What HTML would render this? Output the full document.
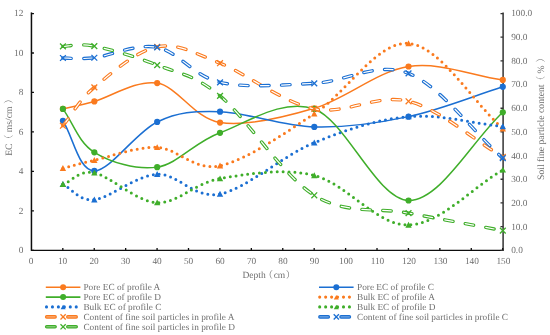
<!DOCTYPE html>
<html><head><meta charset="utf-8"><title>EC and soil fine particle content vs depth</title>
<style>html,body{margin:0;padding:0;background:#fff}svg{display:block}.ax,.lg{font-family:"Liberation Serif","Noto Serif CJK SC",serif;font-size:9.3px;text-rendering:geometricPrecision}.tt{font-size:9.7px}</style></head>
<body><svg width="550" height="335" viewBox="0 0 550 335">
<rect width="550" height="335" fill="#fff"/>
<path d="M31.45 12.4 V250.90" stroke="#0d0d0d" stroke-width="1.5" fill="none"/>
<path d="M31.10 250.30 H503.60" stroke="#0d0d0d" stroke-width="1.3" fill="none"/>
<path d="M503.10 12.4 V250.70" stroke="#333" stroke-width="1.5" fill="none"/>
<path d="M31.45 250.30 h2.5 M31.45 210.84 h2.5 M31.45 171.38 h2.5 M31.45 131.92 h2.5 M31.45 92.46 h2.5 M31.45 53.00 h2.5 M31.45 13.54 h2.5 M62.82 250.30 v-2.4 M94.24 250.30 v-2.4 M125.66 250.30 v-2.4 M157.08 250.30 v-2.4 M188.50 250.30 v-2.4 M219.92 250.30 v-2.4 M251.34 250.30 v-2.4 M282.76 250.30 v-2.4 M314.18 250.30 v-2.4 M345.60 250.30 v-2.4 M377.02 250.30 v-2.4 M408.44 250.30 v-2.4 M439.86 250.30 v-2.4 M471.28 250.30 v-2.4 M502.70 250.30 v-2.4" stroke="#0d0d0d" stroke-width="1.3" fill="none"/>
<path d="M503.10 250.30 h-2.6 M503.10 226.62 h-2.6 M503.10 202.95 h-2.6 M503.10 179.27 h-2.6 M503.10 155.60 h-2.6 M503.10 131.92 h-2.6 M503.10 108.24 h-2.6 M503.10 84.57 h-2.6 M503.10 60.89 h-2.6 M503.10 37.22 h-2.6 M503.10 13.54 h-2.6" stroke="#333" stroke-width="1.3" fill="none"/>
<g shape-rendering="auto">
<path d="M62.92 108.93 C68.11 107.69 78.76 105.70 94.34 101.43 C110.05 97.13 136.23 79.57 157.18 83.08 C178.13 86.60 193.84 118.34 220.02 122.54 C246.20 126.75 282.86 117.68 314.28 108.34 C345.70 99.00 377.12 71.25 408.54 66.51 C439.96 61.78 471.38 75.46 502.80 79.93" fill="none" stroke="#FA7A1E" stroke-width="1.5"/>
<circle cx="62.92" cy="108.93" r="3.10" fill="#FA7A1E"/>
<circle cx="94.34" cy="101.43" r="3.10" fill="#FA7A1E"/>
<circle cx="157.18" cy="83.08" r="3.10" fill="#FA7A1E"/>
<circle cx="220.02" cy="122.54" r="3.10" fill="#FA7A1E"/>
<circle cx="314.28" cy="108.34" r="3.10" fill="#FA7A1E"/>
<circle cx="408.54" cy="66.51" r="3.10" fill="#FA7A1E"/>
<circle cx="502.80" cy="79.93" r="3.10" fill="#FA7A1E"/>
<path d="M62.92 120.77 C73.39 137.47 78.63 170.69 94.34 170.88 C110.05 171.08 136.23 131.82 157.18 121.95 C178.13 112.09 193.84 110.87 220.02 111.69 C246.20 112.51 282.86 126.06 314.28 126.88 C345.70 127.71 377.12 123.30 408.54 116.63 C439.96 109.95 471.38 96.76 502.80 86.83" fill="none" stroke="#1B6FD2" stroke-width="1.5"/>
<circle cx="62.92" cy="120.77" r="3.10" fill="#1B6FD2"/>
<circle cx="94.34" cy="170.88" r="3.10" fill="#1B6FD2"/>
<circle cx="157.18" cy="121.95" r="3.10" fill="#1B6FD2"/>
<circle cx="220.02" cy="111.69" r="3.10" fill="#1B6FD2"/>
<circle cx="314.28" cy="126.88" r="3.10" fill="#1B6FD2"/>
<circle cx="408.54" cy="116.63" r="3.10" fill="#1B6FD2"/>
<circle cx="502.80" cy="86.83" r="3.10" fill="#1B6FD2"/>
<path d="M62.92 108.93 C73.39 123.40 78.63 142.64 94.34 152.34 C110.05 162.04 136.23 170.39 157.18 167.13 C178.13 163.88 193.84 142.50 220.02 132.80 C246.20 123.10 282.86 97.65 314.28 108.93 C345.70 120.21 377.12 199.92 408.54 200.48 C439.96 201.04 471.38 141.68 502.80 112.28" fill="none" stroke="#3FAE2A" stroke-width="1.5"/>
<circle cx="62.92" cy="108.93" r="3.10" fill="#3FAE2A"/>
<circle cx="94.34" cy="152.34" r="3.10" fill="#3FAE2A"/>
<circle cx="157.18" cy="167.13" r="3.10" fill="#3FAE2A"/>
<circle cx="220.02" cy="132.80" r="3.10" fill="#3FAE2A"/>
<circle cx="314.28" cy="108.93" r="3.10" fill="#3FAE2A"/>
<circle cx="408.54" cy="200.48" r="3.10" fill="#3FAE2A"/>
<circle cx="502.80" cy="112.28" r="3.10" fill="#3FAE2A"/>
<path d="M62.92 168.32 C73.39 165.62 78.63 163.71 94.34 160.23 C110.05 156.74 136.23 146.48 157.18 147.40 C178.13 148.32 193.84 171.34 220.02 165.75 C246.20 160.16 282.86 134.25 314.28 113.86 C345.70 93.48 377.12 40.96 408.54 43.43 C439.96 45.89 471.38 100.25 502.80 128.66" fill="none" stroke="#FA7A1E" stroke-width="3" stroke-linecap="round" stroke-dasharray="0 5.9"/>
<path d="M62.92 165.12 L66.12 171.04 L59.72 171.04 Z" fill="#FA7A1E"/>
<path d="M94.34 157.03 L97.54 162.95 L91.14 162.95 Z" fill="#FA7A1E"/>
<path d="M157.18 144.20 L160.38 150.12 L153.98 150.12 Z" fill="#FA7A1E"/>
<path d="M220.02 162.55 L223.22 168.47 L216.82 168.47 Z" fill="#FA7A1E"/>
<path d="M314.28 110.66 L317.48 116.58 L311.08 116.58 Z" fill="#FA7A1E"/>
<path d="M408.54 40.23 L411.74 46.15 L405.34 46.15 Z" fill="#FA7A1E"/>
<path d="M502.80 125.46 L506.00 131.38 L499.60 131.38 Z" fill="#FA7A1E"/>
<path d="M62.92 184.30 C73.39 189.43 78.63 201.37 94.34 199.69 C110.05 198.01 136.23 175.19 157.18 174.24 C178.13 173.28 193.84 199.23 220.02 193.97 C246.20 188.71 282.86 155.56 314.28 142.67 C345.70 129.78 377.12 119.32 408.54 116.63 C439.96 113.93 471.38 123.20 502.80 126.49" fill="none" stroke="#1B6FD2" stroke-width="3" stroke-linecap="round" stroke-dasharray="0 5.9"/>
<path d="M62.92 181.10 L66.12 187.02 L59.72 187.02 Z" fill="#1B6FD2"/>
<path d="M94.34 196.49 L97.54 202.41 L91.14 202.41 Z" fill="#1B6FD2"/>
<path d="M157.18 171.04 L160.38 176.96 L153.98 176.96 Z" fill="#1B6FD2"/>
<path d="M220.02 190.77 L223.22 196.69 L216.82 196.69 Z" fill="#1B6FD2"/>
<path d="M314.28 139.47 L317.48 145.39 L311.08 145.39 Z" fill="#1B6FD2"/>
<path d="M408.54 113.43 L411.74 119.35 L405.34 119.35 Z" fill="#1B6FD2"/>
<path d="M502.80 123.29 L506.00 129.21 L499.60 129.21 Z" fill="#1B6FD2"/>
<path d="M62.92 184.30 C73.39 180.48 78.63 169.80 94.34 172.86 C110.05 175.91 136.23 201.69 157.18 202.65 C178.13 203.60 193.84 183.12 220.02 178.58 C246.20 174.04 282.86 167.69 314.28 175.42 C345.70 183.15 377.12 225.86 408.54 224.94 C439.96 224.02 471.38 188.25 502.80 169.90" fill="none" stroke="#3FAE2A" stroke-width="3" stroke-linecap="round" stroke-dasharray="0 5.9"/>
<path d="M62.92 181.10 L66.12 187.02 L59.72 187.02 Z" fill="#3FAE2A"/>
<path d="M94.34 169.66 L97.54 175.58 L91.14 175.58 Z" fill="#3FAE2A"/>
<path d="M157.18 199.45 L160.38 205.37 L153.98 205.37 Z" fill="#3FAE2A"/>
<path d="M220.02 175.38 L223.22 181.30 L216.82 181.30 Z" fill="#3FAE2A"/>
<path d="M314.28 172.22 L317.48 178.14 L311.08 178.14 Z" fill="#3FAE2A"/>
<path d="M408.54 221.74 L411.74 227.66 L405.34 227.66 Z" fill="#3FAE2A"/>
<path d="M502.80 166.70 L506.00 172.62 L499.60 172.62 Z" fill="#3FAE2A"/>
<path d="M62.92 125.70 C73.39 112.92 78.63 100.49 94.34 87.35 C110.05 74.21 136.23 50.88 157.18 46.86 C178.13 42.84 193.84 52.86 220.02 63.20 C246.20 73.53 282.86 102.54 314.28 108.89 C345.70 115.24 377.12 93.30 408.54 101.31 C439.96 109.33 471.38 138.41 502.80 156.95" fill="none" stroke="#FA7A1E" stroke-width="3.4" stroke-linecap="round" stroke-dasharray="8.5 12.34" stroke-dashoffset="0"/><path d="M62.92 125.70 C73.39 112.92 78.63 100.49 94.34 87.35 C110.05 74.21 136.23 50.88 157.18 46.86 C178.13 42.84 193.84 52.86 220.02 63.20 C246.20 73.53 282.86 102.54 314.28 108.89 C345.70 115.24 377.12 93.30 408.54 101.31 C439.96 109.33 471.38 138.41 502.80 156.95" fill="none" stroke="#fff" stroke-width="1.2" stroke-linecap="round" stroke-dasharray="8.5 12.34" stroke-dashoffset="0"/>
<path d="M60.02 122.80 L65.82 128.60 M60.02 128.60 L65.82 122.80" stroke="#FA7A1E" stroke-width="1.3" fill="none"/>
<path d="M91.44 84.45 L97.24 90.25 M91.44 90.25 L97.24 84.45" stroke="#FA7A1E" stroke-width="1.3" fill="none"/>
<path d="M154.28 43.96 L160.08 49.76 M154.28 49.76 L160.08 43.96" stroke="#FA7A1E" stroke-width="1.3" fill="none"/>
<path d="M217.12 60.30 L222.92 66.10 M217.12 66.10 L222.92 60.30" stroke="#FA7A1E" stroke-width="1.3" fill="none"/>
<path d="M311.38 105.99 L317.18 111.79 M311.38 111.79 L317.18 105.99" stroke="#FA7A1E" stroke-width="1.3" fill="none"/>
<path d="M405.64 98.41 L411.44 104.21 M405.64 104.21 L411.44 98.41" stroke="#FA7A1E" stroke-width="1.3" fill="none"/>
<path d="M499.90 154.05 L505.70 159.85 M499.90 159.85 L505.70 154.05" stroke="#FA7A1E" stroke-width="1.3" fill="none"/>
<path d="M62.92 57.99 C68.12 57.95 78.73 59.52 94.34 57.75 C110.05 55.98 136.23 43.23 157.18 47.33 C178.13 51.44 193.84 76.38 220.02 82.37 C246.20 88.37 282.86 84.82 314.28 83.32 C345.70 81.82 377.12 60.91 408.54 73.38 C439.96 85.85 471.38 129.88 502.80 158.14" fill="none" stroke="#1B6FD2" stroke-width="3.4" stroke-linecap="round" stroke-dasharray="8.5 12.4" stroke-dashoffset="0"/><path d="M62.92 57.99 C68.12 57.95 78.73 59.52 94.34 57.75 C110.05 55.98 136.23 43.23 157.18 47.33 C178.13 51.44 193.84 76.38 220.02 82.37 C246.20 88.37 282.86 84.82 314.28 83.32 C345.70 81.82 377.12 60.91 408.54 73.38 C439.96 85.85 471.38 129.88 502.80 158.14" fill="none" stroke="#fff" stroke-width="1.2" stroke-linecap="round" stroke-dasharray="8.5 12.4" stroke-dashoffset="0"/>
<path d="M60.02 55.09 L65.82 60.89 M60.02 60.89 L65.82 55.09" stroke="#1B6FD2" stroke-width="1.3" fill="none"/>
<path d="M91.44 54.85 L97.24 60.65 M91.44 60.65 L97.24 54.85" stroke="#1B6FD2" stroke-width="1.3" fill="none"/>
<path d="M154.28 44.43 L160.08 50.23 M154.28 50.23 L160.08 44.43" stroke="#1B6FD2" stroke-width="1.3" fill="none"/>
<path d="M217.12 79.47 L222.92 85.27 M217.12 85.27 L222.92 79.47" stroke="#1B6FD2" stroke-width="1.3" fill="none"/>
<path d="M311.38 80.42 L317.18 86.22 M311.38 86.22 L317.18 80.42" stroke="#1B6FD2" stroke-width="1.3" fill="none"/>
<path d="M405.64 70.48 L411.44 76.28 M405.64 76.28 L411.44 70.48" stroke="#1B6FD2" stroke-width="1.3" fill="none"/>
<path d="M499.90 155.24 L505.70 161.04 M499.90 161.04 L505.70 155.24" stroke="#1B6FD2" stroke-width="1.3" fill="none"/>
<path d="M62.92 46.39 C68.06 46.35 78.93 43.09 94.34 46.15 C110.05 49.27 136.23 56.80 157.18 65.09 C178.13 73.38 193.84 74.17 220.02 95.87 C246.20 117.57 282.86 175.78 314.28 195.31 C345.70 214.84 377.12 207.19 408.54 213.07 C439.96 218.94 471.38 224.75 502.80 230.59" fill="none" stroke="#3FAE2A" stroke-width="3.4" stroke-linecap="round" stroke-dasharray="8.5 12.4" stroke-dashoffset="0"/><path d="M62.92 46.39 C68.06 46.35 78.93 43.09 94.34 46.15 C110.05 49.27 136.23 56.80 157.18 65.09 C178.13 73.38 193.84 74.17 220.02 95.87 C246.20 117.57 282.86 175.78 314.28 195.31 C345.70 214.84 377.12 207.19 408.54 213.07 C439.96 218.94 471.38 224.75 502.80 230.59" fill="none" stroke="#fff" stroke-width="1.2" stroke-linecap="round" stroke-dasharray="8.5 12.4" stroke-dashoffset="0"/>
<path d="M60.02 43.49 L65.82 49.29 M60.02 49.29 L65.82 43.49" stroke="#3FAE2A" stroke-width="1.3" fill="none"/>
<path d="M91.44 43.25 L97.24 49.05 M91.44 49.05 L97.24 43.25" stroke="#3FAE2A" stroke-width="1.3" fill="none"/>
<path d="M154.28 62.19 L160.08 67.99 M154.28 67.99 L160.08 62.19" stroke="#3FAE2A" stroke-width="1.3" fill="none"/>
<path d="M217.12 92.97 L222.92 98.77 M217.12 98.77 L222.92 92.97" stroke="#3FAE2A" stroke-width="1.3" fill="none"/>
<path d="M311.38 192.41 L317.18 198.21 M311.38 198.21 L317.18 192.41" stroke="#3FAE2A" stroke-width="1.3" fill="none"/>
<path d="M405.64 210.17 L411.44 215.97 M405.64 215.97 L411.44 210.17" stroke="#3FAE2A" stroke-width="1.3" fill="none"/>
<path d="M499.90 227.69 L505.70 233.49 M499.90 233.49 L505.70 227.69" stroke="#3FAE2A" stroke-width="1.3" fill="none"/>
</g>
<g class="ax" fill="#6e6e6e"><text x="23.4" y="253.20" text-anchor="end">0</text><text x="23.4" y="213.74" text-anchor="end">2</text><text x="23.4" y="174.28" text-anchor="end">4</text><text x="23.4" y="134.82" text-anchor="end">6</text><text x="23.4" y="95.36" text-anchor="end">8</text><text x="23.4" y="55.90" text-anchor="end">10</text><text x="23.4" y="16.44" text-anchor="end">12</text><text x="31.10" y="263.9" text-anchor="middle">0</text><text x="62.59" y="263.9" text-anchor="middle">10</text><text x="94.08" y="263.9" text-anchor="middle">20</text><text x="125.57" y="263.9" text-anchor="middle">30</text><text x="157.06" y="263.9" text-anchor="middle">40</text><text x="188.55" y="263.9" text-anchor="middle">50</text><text x="220.04" y="263.9" text-anchor="middle">60</text><text x="251.53" y="263.9" text-anchor="middle">70</text><text x="283.02" y="263.9" text-anchor="middle">80</text><text x="314.51" y="263.9" text-anchor="middle">90</text><text x="346.00" y="263.9" text-anchor="middle">100</text><text x="377.49" y="263.9" text-anchor="middle">110</text><text x="408.98" y="263.9" text-anchor="middle">120</text><text x="440.47" y="263.9" text-anchor="middle">130</text><text x="471.96" y="263.9" text-anchor="middle">140</text><text x="503.45" y="263.9" text-anchor="middle">150</text><text x="511.2" y="253.20">0.0</text><text x="511.2" y="229.52">10.0</text><text x="511.2" y="205.85">20.0</text><text x="511.2" y="182.17">30.0</text><text x="511.2" y="158.50">40.0</text><text x="511.2" y="134.82">50.0</text><text x="511.2" y="111.14">60.0</text><text x="511.2" y="87.47">70.0</text><text x="511.2" y="63.79">80.0</text><text x="511.2" y="40.12">90.0</text><text x="511.2" y="16.44">100.0</text><text class="tt" style="font-size:9.5px" x="242.5" y="278">Depth<tspan dx="-2.2">（</tspan><tspan dx="0.6">cm</tspan><tspan dx="0.6">）</tspan></text><text class="tt" transform="translate(12.2,155.8) rotate(-90)">EC<tspan dx="-0.9">（</tspan><tspan dx="2.3">ms/cm</tspan><tspan dx="2.8">）</tspan></text><text class="tt" transform="translate(544.2,180) rotate(-90)">Soil fine particle content<tspan dx="-0.9">（</tspan><tspan dx="2.3">%</tspan><tspan dx="2.8">）</tspan></text></g>
<g class="lg" fill="#6e6e6e"><path d="M45.80 287.20 H80.40" stroke="#FA7A1E" stroke-width="1.6"/><circle cx="63.10" cy="287.20" r="3.00" fill="#FA7A1E"/><text x="83.40" y="290.10">Pore EC of profile A</text><path d="M45.80 297.10 H80.40" stroke="#3FAE2A" stroke-width="1.6"/><circle cx="63.10" cy="297.10" r="3.00" fill="#3FAE2A"/><text x="83.40" y="300.00">Pore EC of profile D</text><path d="M46.50 306.90 h32" stroke="#1B6FD2" stroke-width="3.1" stroke-linecap="round" stroke-dasharray="0 5.95"/><path d="M63.10 304.70 L65.60 309.32 L60.60 309.32 Z" fill="#1B6FD2"/><text x="83.40" y="309.80">Bulk EC of profile C</text><path d="M46.70 316.90 h8.4" stroke="#FA7A1E" stroke-width="3.6" stroke-linecap="round"/><path d="M46.70 316.90 h8.4" stroke="#fff" stroke-opacity="0.55" stroke-width="0.9" stroke-linecap="round"/><path d="M67.80 316.90 h8.4" stroke="#FA7A1E" stroke-width="3.6" stroke-linecap="round"/><path d="M67.80 316.90 h8.4" stroke="#fff" stroke-opacity="0.55" stroke-width="0.9" stroke-linecap="round"/><path d="M60.50 314.30 L65.70 319.50 M60.50 319.50 L65.70 314.30" stroke="#FA7A1E" stroke-width="1.3" fill="none"/><text x="83.40" y="319.80">Content of fine soil particles in profile A</text><path d="M46.70 326.80 h8.4" stroke="#3FAE2A" stroke-width="3.6" stroke-linecap="round"/><path d="M46.70 326.80 h8.4" stroke="#fff" stroke-opacity="0.55" stroke-width="0.9" stroke-linecap="round"/><path d="M67.80 326.80 h8.4" stroke="#3FAE2A" stroke-width="3.6" stroke-linecap="round"/><path d="M67.80 326.80 h8.4" stroke="#fff" stroke-opacity="0.55" stroke-width="0.9" stroke-linecap="round"/><path d="M60.50 324.20 L65.70 329.40 M60.50 329.40 L65.70 324.20" stroke="#3FAE2A" stroke-width="1.3" fill="none"/><text x="83.40" y="329.70">Content of fine soil particles in profile D</text><path d="M319.00 287.20 H353.60" stroke="#1B6FD2" stroke-width="1.6"/><circle cx="336.30" cy="287.20" r="3.00" fill="#1B6FD2"/><text x="357.00" y="290.10">Pore EC of profile C</text><path d="M319.70 297.10 h32" stroke="#FA7A1E" stroke-width="3.1" stroke-linecap="round" stroke-dasharray="0 5.95"/><path d="M336.30 294.90 L338.80 299.53 L333.80 299.53 Z" fill="#FA7A1E"/><text x="357.00" y="300.00">Bulk EC of profile A</text><path d="M319.70 306.90 h32" stroke="#3FAE2A" stroke-width="3.1" stroke-linecap="round" stroke-dasharray="0 5.95"/><path d="M336.30 304.70 L338.80 309.32 L333.80 309.32 Z" fill="#3FAE2A"/><text x="357.00" y="309.80">Bulk EC of profile D</text><path d="M319.90 316.90 h8.4" stroke="#1B6FD2" stroke-width="3.6" stroke-linecap="round"/><path d="M319.90 316.90 h8.4" stroke="#fff" stroke-opacity="0.55" stroke-width="0.9" stroke-linecap="round"/><path d="M341.00 316.90 h8.4" stroke="#1B6FD2" stroke-width="3.6" stroke-linecap="round"/><path d="M341.00 316.90 h8.4" stroke="#fff" stroke-opacity="0.55" stroke-width="0.9" stroke-linecap="round"/><path d="M333.70 314.30 L338.90 319.50 M333.70 319.50 L338.90 314.30" stroke="#1B6FD2" stroke-width="1.3" fill="none"/><text x="357.00" y="319.80">Content of fine soil particles in profile C</text></g>
</svg></body></html>
